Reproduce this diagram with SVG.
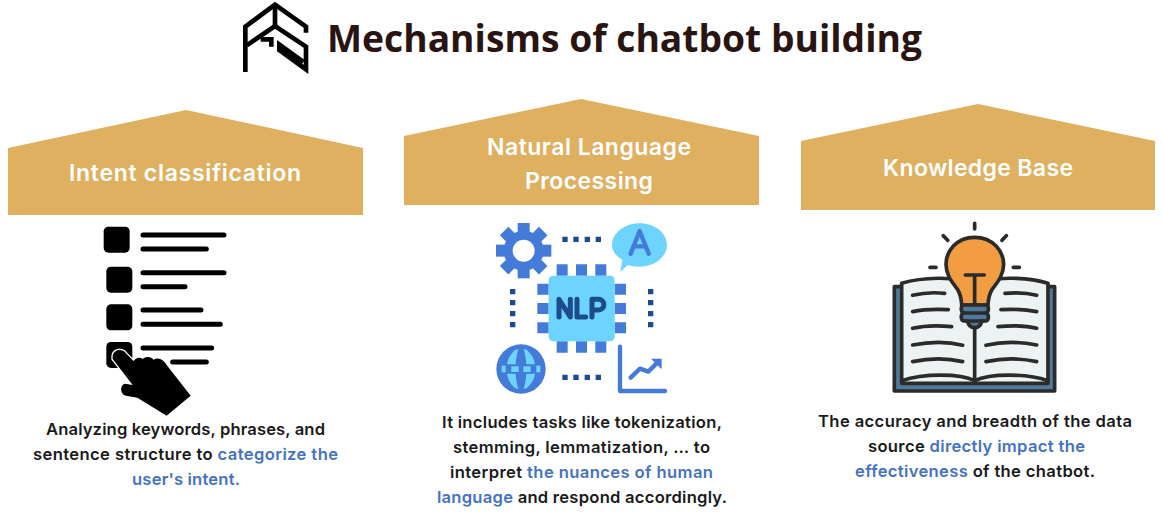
<svg xmlns="http://www.w3.org/2000/svg" width="1163" height="512" viewBox="0 0 1163 512">
<style>
.t{font-family:"Open Sans","Noto Sans",sans-serif;font-weight:700;fill:#2a1412;font-size:37.2px}
.h{font-family:"Inter","Noto Sans",sans-serif;font-weight:600;fill:#fff;font-size:23px;text-anchor:middle}
.b{font-family:"Inter","Noto Sans",sans-serif;font-weight:600;fill:#1a1a1a;font-size:16.6px;text-anchor:middle}
.b tspan{fill:#4472c4}
.hd{fill:#deb05f}
.ln{fill:none;stroke:#000;stroke-width:15;stroke-linecap:round}
.m{fill:#457bd8}.d{fill:#1c4b8f}.l{fill:#6dd3ff}
.k{fill:none;stroke:#2b2b2b;stroke-width:11;stroke-linecap:round;stroke-linejoin:round}
</style>
<g id="title">
<g transform="translate(240 0) scale(.3333)" fill="none" stroke="#000" stroke-width="14" stroke-linejoin="miter">
<path d="M16 216V80L105 14L198 80V98"/>
<path d="M105 14V76"/>
<path d="M20 136L105 78L198 140V208L118 150V134L190 186"/>
<path d="M62 118H94V140"/>
</g>
<text class="t" x="327" y="52" textLength="595">Mechanisms of chatbot building</text>
</g>
<g id="intent">
<polygon class="hd" points="8,148 186,110 363,148 363,215 8,215"/>
<text class="h" x="185" y="181" textLength="232">Intent classification</text>
<g transform="translate(90 220) scale(.3333)">
<rect x="41" y="20" width="78" height="78" rx="14"/>
<rect x="49" y="140" width="78" height="78" rx="14"/>
<rect x="49" y="253" width="78" height="78" rx="14"/>
<rect x="49" y="366" width="78" height="78" rx="14"/>
<path class="ln" d="M159 45H402M159 87H349M159 158H402M159 200H285M159 270H333M159 313H391M159 384H365M248 426H349"/>
</g>
<path transform="translate(100 335) scale(.3333)" fill="#000" stroke="#fff" stroke-width="8" paint-order="stroke" d="M38 62C42 42 68 40 78 55L100 78C112 65 122 68 128 72C140 62 155 66 160 74C175 66 190 72 200 90L272 182L200 242L112 188L78 182C60 178 58 150 75 146L98 150L38 72Z"/>
<text class="b" x="185.500" y="435" textLength="279">Analyzing keywords, phrases, and</text>
<text class="b" x="185.500" y="460" textLength="305">sentence structure to <tspan>categorize the</tspan></text>
<text class="b" x="186" y="485" textLength="108"><tspan>user's intent.</tspan></text>
</g>
<g id="nlp">
<polygon class="hd" points="404,136 581,99 759,136 759,205 404,205"/>
<text class="h" x="589" y="155" textLength="204">Natural Language</text>
<text class="h" x="589" y="189" textLength="128">Processing</text>
<g transform="translate(485 215) scale(.3333)">
<g class="m">
<rect x="98" y="24" width="36" height="166"/>
<rect x="98" y="24" width="36" height="166" transform="rotate(45 116 107)"/>
<rect x="98" y="24" width="36" height="166" transform="rotate(90 116 107)"/>
<rect x="98" y="24" width="36" height="166" transform="rotate(135 116 107)"/>
<circle cx="116" cy="107" r="60"/>
</g>
<circle cx="116" cy="107" r="33" fill="#fff"/>
<path class="l" d="M464 25C510 25 546 55 546 90C546 128 505 155 464 155C450 155 438 153 428 150L406 171L412 135C392 122 381 108 381 90C381 55 418 25 464 25Z"/>
<path d="M437 116L464 48L491 116M448 94H480" fill="none" stroke="#457bd8" stroke-width="13" stroke-linecap="round" stroke-linejoin="round"/>
<path class="d" d="M232 65h16v16h-16zM265 65h16v16h-16zM299 65h16v16h-16zM332 65h16v16h-16zM232 479h16v16h-16zM265 479h16v16h-16zM299 479h16v16h-16zM332 479h16v16h-16zM75 222h16v16h-16zM75 255h16v16h-16zM75 288h16v16h-16zM75 321h16v16h-16zM489 222h16v16h-16zM489 255h16v16h-16zM489 288h16v16h-16zM489 321h16v16h-16z"/>
<path class="m" d="M215 148h33v34h-33zM273 148h33v34h-33zM331 148h33v34h-33zM215 379h33v34h-33zM273 379h33v34h-33zM331 379h33v34h-33zM157 206h34v33h-34zM157 264h34v33h-34zM157 322h34v33h-34zM389 206h34v33h-34zM389 264h34v33h-34zM389 322h34v33h-34z"/>
<rect class="l" x="191" y="182" width="198" height="197" rx="14"/>
<path d="M222 306V253L256 306V253M276 253V306H302M321 306V253H340C362 253 362 285 340 285H321" fill="none" stroke="#1c4b8f" stroke-width="15" stroke-linecap="round" stroke-linejoin="round"/>
<circle class="m" cx="108" cy="462" r="74"/>
<g class="l">
<path d="M90 405C76 418 68 432 66 448H92C93 432 96 416 100 402Z"/><path d="M126 405C140 418 148 432 150 448H124C123 432 120 416 116 402Z"/>
<path d="M90 519C76 506 68 492 66 476H92C93 492 96 508 100 522Z"/><path d="M126 519C140 506 148 492 150 476H124C123 492 120 508 116 522Z"/>
<rect x="50" y="452" width="12" height="20"/><rect x="79" y="454" width="22" height="17"/><rect x="115" y="454" width="22" height="17"/><rect x="154" y="452" width="12" height="20"/>
</g>
<path d="M405 395V528H540" fill="none" stroke="#457bd8" stroke-width="13" stroke-linecap="round" stroke-linejoin="round"/>
<path d="M437 488L465 461L490 470L522 438" fill="none" stroke="#457bd8" stroke-width="13" stroke-linecap="round" stroke-linejoin="round"/>
<path class="m" d="M498 431H530V463Z"/>
</g>
<text class="b" x="582" y="428" textLength="280">It includes tasks like tokenization,</text>
<text class="b" x="581.500" y="453" textLength="257">stemming, lemmatization,  … to</text>
<text class="b" x="581.500" y="478" textLength="263">interpret <tspan>the nuances of human</tspan></text>
<text class="b" x="582" y="503" textLength="290"><tspan>language</tspan> and respond accordingly.</text>
</g>
<g id="kb">
<polygon class="hd" points="801,141 978,104 1155,141 1155,210 801,210"/>
<text class="h" x="978" y="176" textLength="190">Knowledge Base</text>
<g transform="translate(880 215) scale(.3333)">
<path d="M43 215H524V528H43Z" fill="#50799a" stroke="#2b2b2b" stroke-width="11" stroke-linejoin="round"/>
<path d="M65 205C120 188 230 180 284 210C340 180 450 188 504 205V505H65Z" fill="#edf3f3" stroke="#2b2b2b" stroke-width="11" stroke-linejoin="round"/>
<path class="k" d="M65 497C130 475 240 475 284 497C330 475 440 475 504 497M284 330V497M98 241C130 233 165 232 194 235M98 290C130 283 170 282 205 284M98 340C135 331 175 331 215 335M98 390C150 380 205 380 248 391M98 440C150 429 205 430 248 440M375 235C410 232 440 233 470 241M363 284C400 282 435 283 470 290M354 335C395 331 435 331 470 340M318 391C365 380 420 380 470 390M318 440C365 430 420 429 470 440M284 25V42M190 62L203 76M379 62L366 76M150 157H168M400 157H418"/>
<path d="M284 67C228 67 198 110 198 148C198 180 215 200 232 222C240 235 244 250 245 270H324C325 250 329 235 337 222C354 200 371 180 371 148C371 110 340 67 284 67Z" fill="#f29d42" stroke="#2b2b2b" stroke-width="11" stroke-linejoin="round"/>
<path class="k" d="M256 180H313M284 180V268"/>
<path d="M252 270H317C328 270 328 292 317 294C328 296 328 316 317 318H305C303 332 295 338 284 338C273 338 265 332 263 318H252C241 316 241 296 252 294C241 292 241 270 252 270Z" fill="#50799a" stroke="#2b2b2b" stroke-width="11" stroke-linejoin="round"/>
<path class="k" d="M250 294H318M258 318H310"/>
</g>
<text class="b" x="975" y="427" textLength="314">The accuracy and breadth of the data</text>
<text class="b" x="976.500" y="452" textLength="217">source <tspan>directly impact the</tspan></text>
<text class="b" x="975" y="477" textLength="240"><tspan>effectiveness</tspan> of the chatbot.</text>
</g>
</svg>
